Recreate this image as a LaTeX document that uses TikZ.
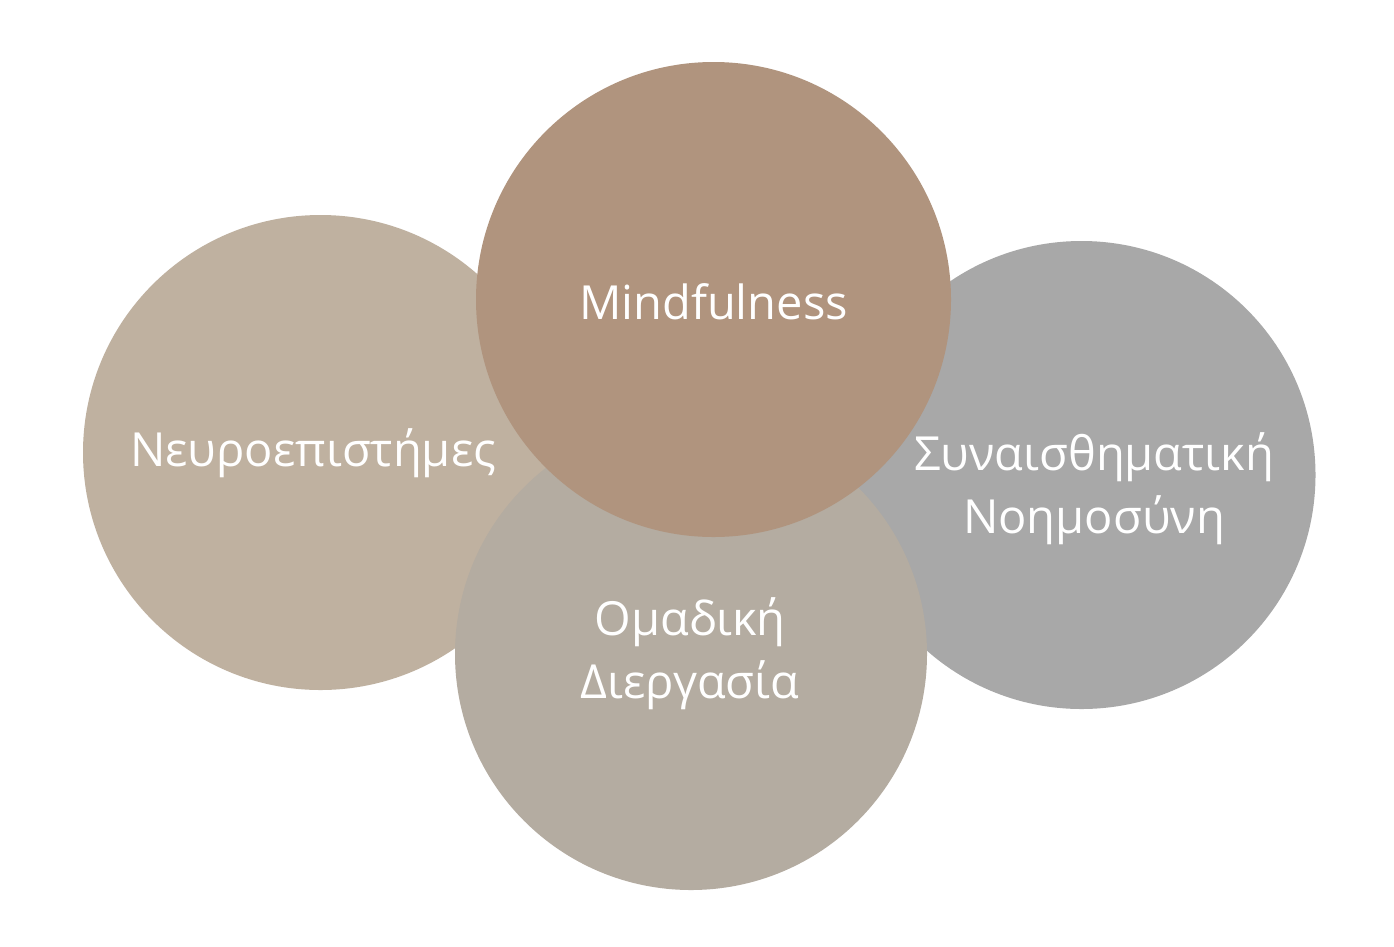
\documentclass[tikz,border=0pt]{standalone}
\usepackage{fontspec}
\setmainfont{Open Sans}
\definecolor{cleft}{HTML}{BFB1A0}
\definecolor{ctop}{HTML}{B0947E}
\definecolor{cright}{HTML}{A8A8A8}
\definecolor{cbottom}{HTML}{B4ACA1}
\begin{document}
\begin{tikzpicture}[x=1pt,y=-1pt,
  blob/.style={circle,inner sep=0pt,draw=none},
  lbl/.style={text=white,font=\fontsize{47}{63}\selectfont,align=center,anchor=base,inner sep=0pt}]
\fill[white] (0,0) rectangle (1394,946);
\useasboundingbox (0,0) rectangle (1394,946);
\node[blob,fill=cleft,minimum size=475pt] (neuro) at (320.5,452.5) {};
\node[blob,fill=cright,minimum size=468pt] (emo) at (1081.5,475) {};
\node[blob,fill=cbottom,minimum size=472pt] (group) at (691,654) {};
\node[blob,fill=ctop,minimum size=475pt] (mind) at (713.5,299.5) {};
\node[lbl] (tmind) at (713.5,319) {Mindfulness};
\node[lbl] (tneuro) at (313,466) {Νευροεπιστήμες};
\node[lbl] (temo) at (1094,533) {Συναισθηματική\\Νοημοσύνη};
\node[lbl] (tgroup) at (690,698) {Ομαδική\\Διεργασία};
\end{tikzpicture}
\end{document}
